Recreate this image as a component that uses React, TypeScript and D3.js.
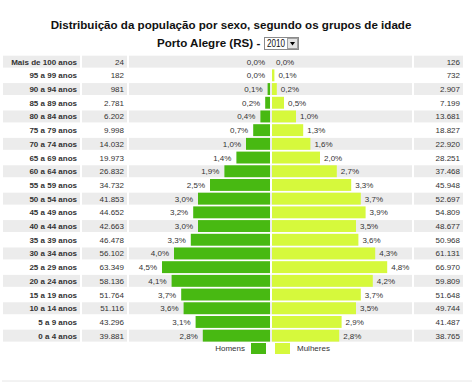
import React from "react";
import * as d3 from "d3";

const ages = [
  "Mais de 100 anos", "95 a 99 anos", "90 a 94 anos", "85 a 89 anos", "80 a 84 anos",
  "75 a 79 anos", "70 a 74 anos", "65 a 69 anos", "60 a 64 anos", "55 a 59 anos",
  "50 a 54 anos", "45 a 49 anos", "40 a 44 anos", "35 a 39 anos", "30 a 34 anos",
  "25 a 29 anos", "20 a 24 anos", "15 a 19 anos", "10 a 14 anos", "5 a 9 anos", "0 a 4 anos",
];
const menCount = [
  "24", "182", "981", "2.781", "6.202", "9.998", "14.032", "19.973", "26.832", "34.732",
  "41.853", "44.652", "42.663", "46.478", "56.102", "63.349", "58.136", "51.764", "51.116", "43.296", "39.881",
];
const womenCount = [
  "126", "732", "2.907", "7.199", "13.681", "18.827", "22.920", "28.251", "37.468", "45.948",
  "52.697", "54.809", "48.677", "50.968", "61.131", "66.970", "59.809", "51.648", "49.744", "41.487", "38.765",
];
const menPct = [0.0, 0.0, 0.1, 0.2, 0.4, 0.7, 1.0, 1.4, 1.9, 2.5, 3.0, 3.2, 3.0, 3.3, 4.0, 4.5, 4.1, 3.7, 3.6, 3.1, 2.8];
const womenPct = [0.0, 0.1, 0.2, 0.5, 1.0, 1.3, 1.6, 2.0, 2.7, 3.3, 3.7, 3.9, 3.5, 3.6, 4.3, 4.8, 4.2, 3.7, 3.5, 2.9, 2.8];
const year = "2010";
const title1 = "Distribuição da população por sexo, segundo os grupos de idade";
const title2 = "Porto Alegre (RS) - ";
const legendLabels = ["Homens", "Mulheres"];

const W = 474;
const H = 382;
const MEN = "#48b912";
const WOMEN = "#d6f93c";
const STRIPE = "#ececec";
const TXT = "#333";
const FONT = "'Liberation Sans', Arial, sans-serif";

const fmt = (v: number) => v.toFixed(1).replace(".", ",") + "%";

export default function App() {
  const y = d3.scaleBand<string>().domain(ages).range([54.8, 54.8 + 21 * 13.7]).paddingInner(0.13).paddingOuter(0.065);
  const xM = d3.scaleLinear().domain([0, 5]).range([270, 150]);
  const xW = d3.scaleLinear().domain([0, 5]).range([272, 392]);
  const bw = y.bandwidth();

  return (
    <div style={{ position: "absolute", left: 0, top: 0 }}>
      <svg width={W} height={H} style={{ display: "block", background: "#fff" }} fontFamily={FONT}>
        <text x={231} y={29} textAnchor="middle" fontSize={11.6} fontWeight="bold" fill="#111">{title1}</text>
        <text x={157} y={47} fontSize={11.6} fontWeight="bold" fill="#111">{title2}</text>
        <g>
          <rect x={264.5} y={37.5} width={34} height={12} fill="#fff" stroke="#8a8a8a" />
          <text x={267} y={47} fontSize={10} fill="#111" textLength={18} lengthAdjust="spacingAndGlyphs">{year}</text>
          <rect x={287.5} y={38.5} width={10} height={10} fill="#e4e4e4" stroke="#a0a0a0" />
          <path d="M290,42 L295,42 L292.5,45.5 Z" fill="#000" />
        </g>
        {ages.map((a, i) => {
          const top = y(a)!;
          const cy = top + bw / 2 + 3;
          return (
            <g key={a}>
              {i % 2 === 0 && (
                <g fill={STRIPE}>
                  <rect x={3} y={top} width={77} height={bw} />
                  <rect x={82} y={top} width={45} height={bw} />
                  <rect x={129} y={top} width={283} height={bw} />
                  <rect x={414} y={top} width={49} height={bw} />
                </g>
              )}
              <text x={77} y={cy} textAnchor="end" fontSize={8} fontWeight="bold" fill={TXT}>{a}</text>
              <text x={124} y={cy} textAnchor="end" fontSize={8} fill={TXT}>{menCount[i]}</text>
              <text x={460} y={cy} textAnchor="end" fontSize={8} fill={TXT}>{womenCount[i]}</text>
              <rect x={xM(menPct[i])} y={top} width={xM(0) - xM(menPct[i])} height={bw} fill={MEN} />
              <rect x={xW(0)} y={top} width={xW(womenPct[i]) - xW(0)} height={bw} fill={WOMEN} />
              <text x={xM(menPct[i]) - 5} y={cy} textAnchor="end" fontSize={8} fill={TXT}>{fmt(menPct[i])}</text>
              <text x={xW(womenPct[i]) + 4} y={cy} fontSize={8} fill={TXT}>{fmt(womenPct[i])}</text>
            </g>
          );
        })}
        <g>
          <text x={245} y={351} textAnchor="end" fontSize={8} fill={TXT}>{legendLabels[0]}</text>
          <rect x={251} y={343} width={15} height={11} fill={MEN} />
          <rect x={275} y={343} width={15} height={11} fill={WOMEN} />
          <text x={297} y={351} fontSize={8} fill={TXT}>{legendLabels[1]}</text>
        </g>
        <line x1={2} x2={472} y1={381} y2={381} stroke="#e6e6e6" />
      </svg>
    </div>
  );
}
